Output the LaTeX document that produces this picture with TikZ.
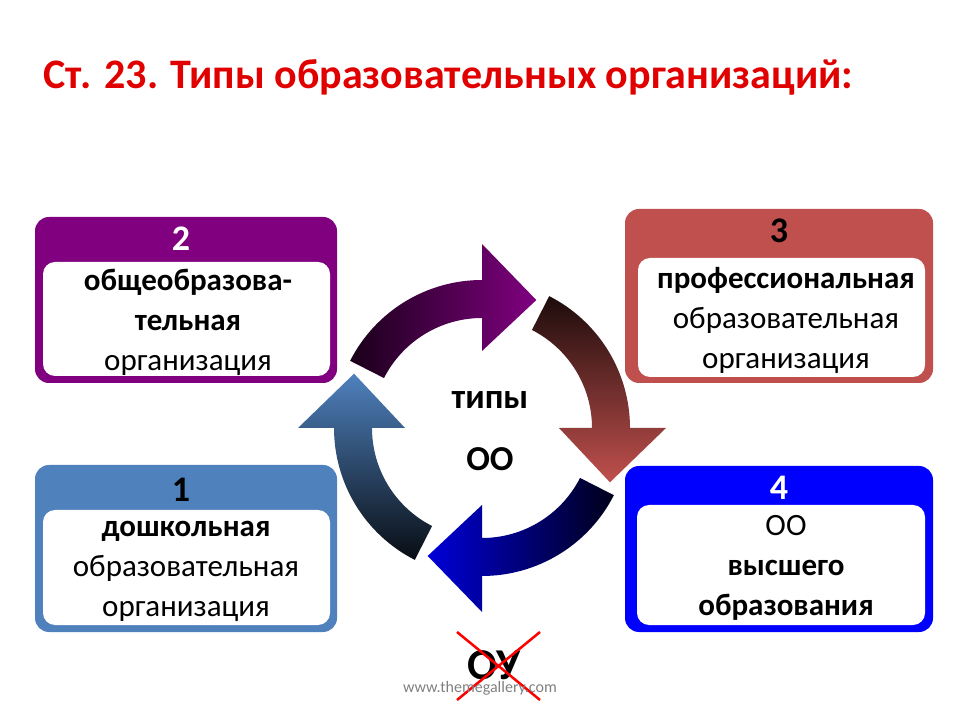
\documentclass[tikz,border=0pt]{standalone}
\usepackage{fontspec}
\setmainfont{Carlito}
\definecolor{violetbox}{HTML}{800080}
\definecolor{redbox}{HTML}{C0504D}
\definecolor{steelbox}{HTML}{4F81BD}
\definecolor{bluebox}{HTML}{0000FF}
\definecolor{titlered}{HTML}{E00000}
\newcommand\cyclearrowpath{(153:148) arc (153:90:148) -- (90:184) -- (67:139) -- (90:77)
            -- (90:110) arc (90:153:110) -- cycle}

\begin{document}
\begin{tikzpicture}[x=1pt,y=1pt,
    outerbox/.style={rounded corners=14pt, fill=#1, draw=none},
    innerbox/.style={rounded corners=12pt, fill=white, draw=none},
    numtext/.style={font=\fontsize{36}{38}\selectfont\bfseries},
    boxtext/.style={align=center, font=\fontsize{31}{40}\selectfont},
    cyclearrow/.style={shift={(482,292)}, rotate=-90*#1}]
    \useasboundingbox (0,0) rectangle (960,720);

    % title
    \node[anchor=west, text=titlered, font=\fontsize{42}{44}\selectfont\bfseries] (title) at (40,643) {Ст. 23. Типы образовательных организаций:};

    % boxes
    \fill[outerbox=violetbox] (35,503) rectangle (337,337);
    \fill[innerbox] (43,458) rectangle (330,344);
    \node[numtext, text=white] (n2) at (181,481) {2};
    \node[boxtext] (t2) at (188,398) {\textbf{общеобразова-}\\\textbf{тельная}\\организация};

    \fill[outerbox=redbox] (625,511) rectangle (933,337);
    \fill[innerbox] (638,462) rectangle (925,343);
    \node[numtext] (n3) at (779,489) {3};
    \node[boxtext] (t3) at (786,400) {\textbf{профессиональная}\\образовательная\\организация};

    \fill[outerbox=steelbox] (35,255) rectangle (337,88);
    \fill[innerbox] (43,210) rectangle (330,95);
    \node[numtext] (n1) at (181,230) {1};
    \node[boxtext] (t1) at (186,149) {\textbf{дошкольная}\\образовательная\\организация};

    \fill[outerbox=bluebox] (625,254) rectangle (933,88);
    \fill[innerbox] (637,215) rectangle (925,95);
    \node[numtext, text=white] (n4) at (779,232) {4};
    \node[boxtext] (t4) at (786,152) {ОО\\\textbf{высшего}\\\textbf{образования}};

    % cycle arrows
    \shade[cyclearrow=0, left color=violetbox!20!black, right color=violetbox] \cyclearrowpath;
    \shade[cyclearrow=1, top color=redbox!15!black, bottom color=redbox] \cyclearrowpath;
    \shade[cyclearrow=2, right color=bluebox!10!black, left color=bluebox!85!black] \cyclearrowpath;
    \shade[cyclearrow=3, bottom color=steelbox!10!black, top color=steelbox] \cyclearrowpath;

    \node[font=\fontsize{35}{38}\selectfont\bfseries] (types) at (490,320) {типы};
    \node[font=\fontsize{35}{38}\selectfont\bfseries] (oo) at (490,261) {ОО};

    % crossed out
    \node[font=\fontsize{44}{46}\selectfont\bfseries] (ou) at (494,55) {ОУ};
    \draw[red, line width=2.5pt] (457,88) -- (540,20);
    \draw[red, line width=2.5pt] (457,20) -- (540,88);
    \node[text=gray, font=\fontsize{16}{18}\selectfont] (web) at (480,32) {www.themegallery.com};
\end{tikzpicture}
\end{document}
